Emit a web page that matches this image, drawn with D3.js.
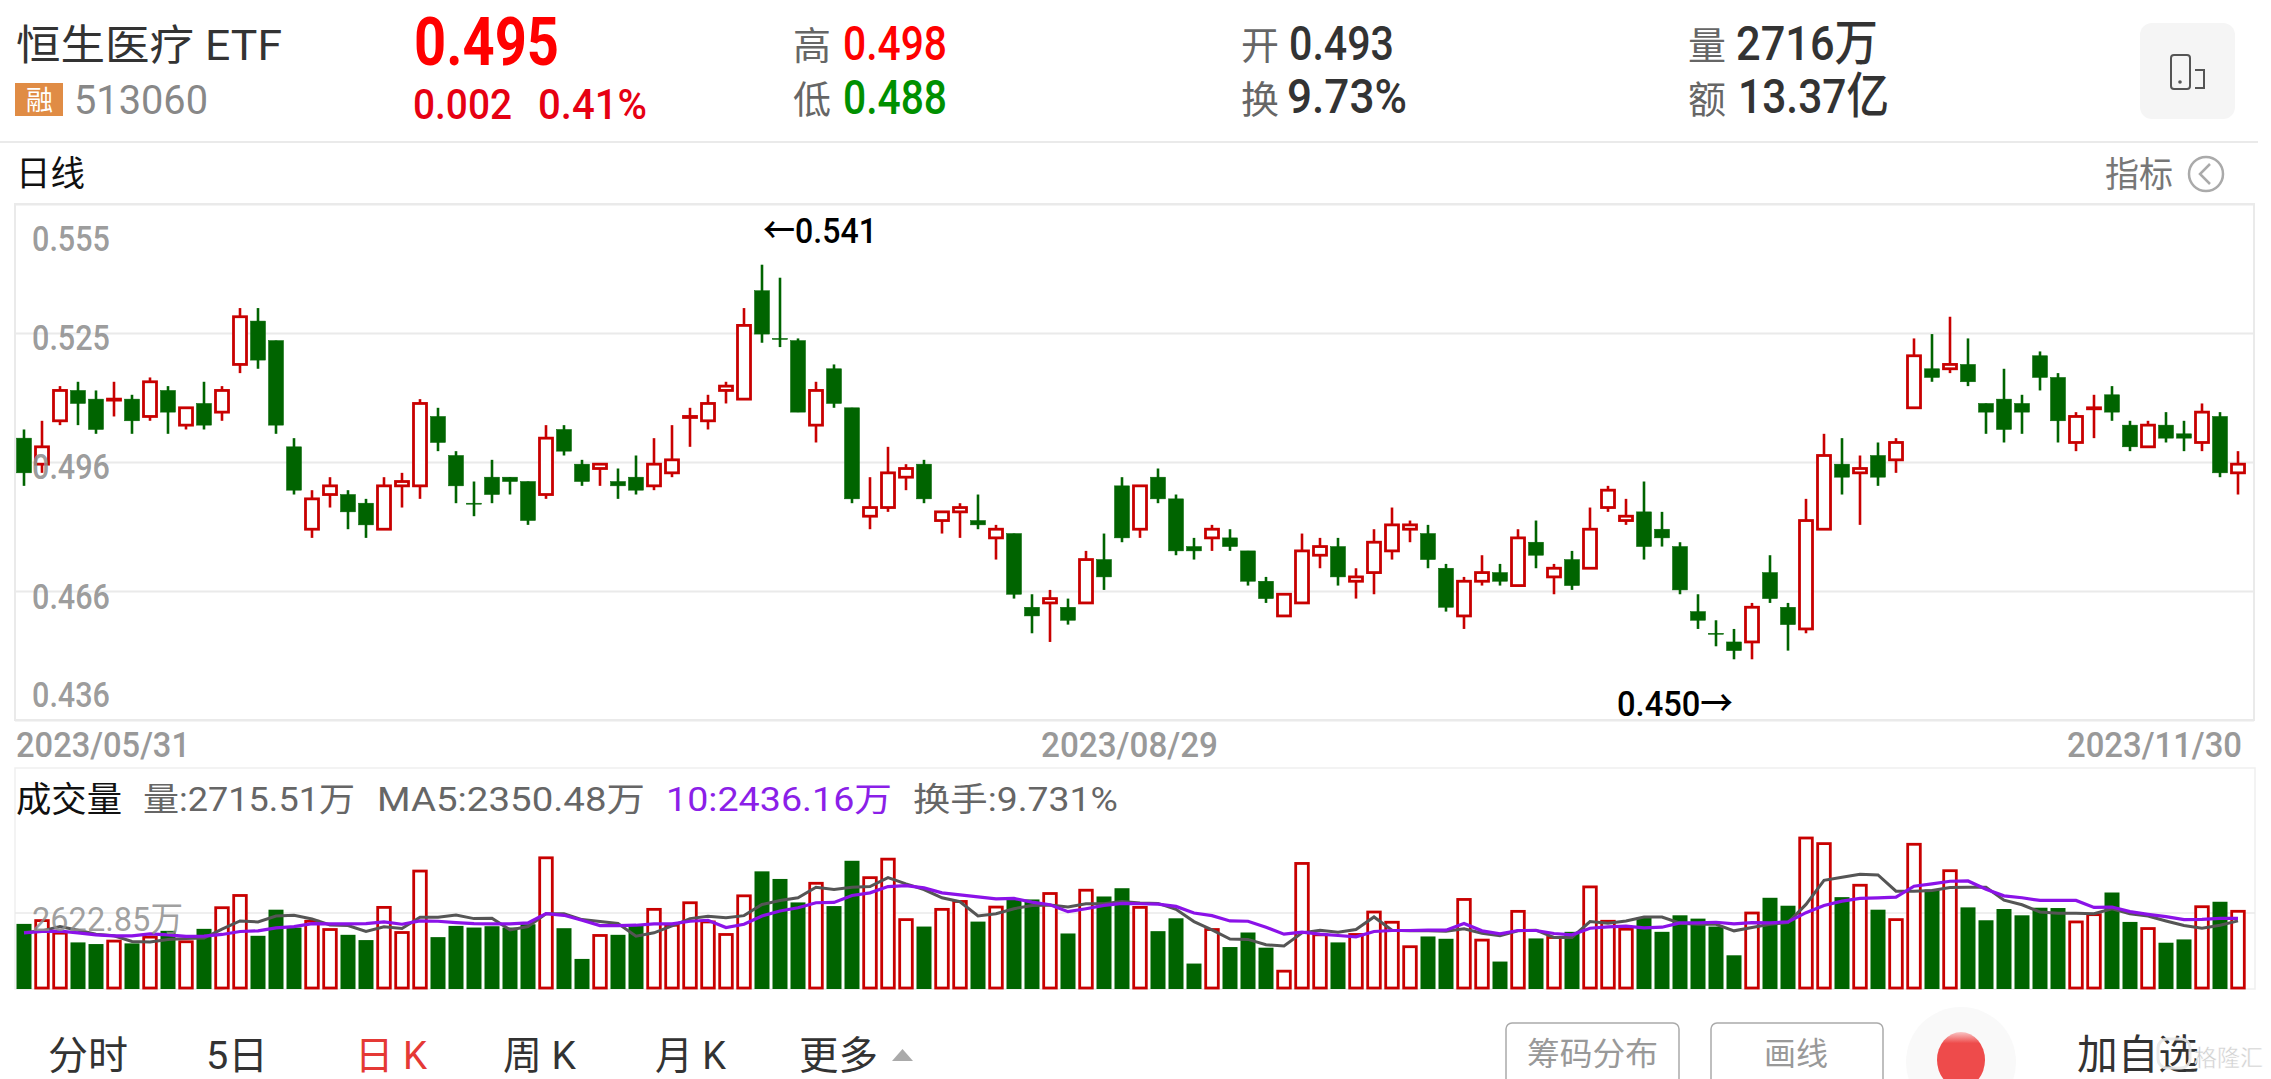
<!DOCTYPE html>
<html>
<head>
<meta charset="utf-8">
<script src="https://cdnjs.cloudflare.com/ajax/libs/d3/7.8.5/d3.min.js"></script>
<style>
  html, body { margin: 0; padding: 0; background: #fff; overflow: hidden; }
  svg { display: block; }
  text { font-family: Roboto, "Noto Sans CJK SC", sans-serif; }
</style>
</head>
<body>
<div id="chart"></div>
<script>
// daily candles, 2023/05/31 - 2023/11/30
const opens = [.501,.495,.505,.512,.510,.510,.510,.506,.512,.504,.509,.507,.518,.528,.5235,.499,.480,.488,.488,.486,.480,.490,.490,.506,.497,.486,.492,.492,.491,.488,.503,
  .495,.494,.491,.492,.490,.493,.506,.505,.512,.510,.535,.524,.5235,.504,.517,.508,.483,.485,.492,.495,.482,.484,.482,.478,.479,.462,.463,.462,.463,.473,.490,
  .480,.492,.487,.476,.478,.478,.475,.468,.460,.463,.474,.476,.468,.470,.475,.480,.479,.471,.460,.468,.470,.467,.477,.469,.473,.471,.485,.482,.484,.480,.476,
  .461,.456,.454,.454,.470,.462,.457,.480,.495,.493,.497,.496,.508,.517,.517,.518,.509,.510,.509,.520,.515,.500,.508,.511,.504,.499,.504,.502,.500,.506,.493];
const closes = [.493,.499,.512,.509,.503,.510,.505,.514,.507,.508,.504,.512,.529,.519,.504,.489,.487,.490,.484,.481,.490,.491,.509,.500,.490,.486,.488,.491,.482,.501,.498,
  .491,.495,.490,.489,.495,.496,.506,.509,.513,.527,.525,.524,.507,.512,.509,.487,.485,.493,.494,.487,.484,.485,.481,.480,.465,.460,.464,.459,.473,.469,.478,
  .490,.487,.475,.475,.480,.476,.468,.464,.465,.475,.476,.469,.469,.477,.481,.481,.473,.462,.468,.470,.468,.478,.474,.471,.467,.480,.489,.483,.476,.478,.466,
  .459,.456,.452,.462,.464,.458,.482,.497,.492,.494,.492,.500,.520,.515,.518,.514,.507,.503,.507,.515,.505,.506,.508,.507,.499,.504,.501,.501,.507,.493,.495];
const highs = [.503,.505,.513,.514,.512,.514,.511,.515,.513,.508,.514,.513,.531,.531,.5235,.501,.489,.492,.489,.487,.492,.493,.510,.508,.498,.491,.496,.492,.491,.504,.504,
  .496,.495,.494,.497,.501,.504,.508,.511,.514,.531,.541,.538,.524,.514,.518,.508,.492,.499,.495,.496,.484,.486,.488,.481,.479,.465,.466,.464,.475,.479,.492,
  .490,.494,.488,.478,.481,.480,.475,.469,.465,.479,.478,.478,.471,.480,.485,.482,.481,.472,.469,.474,.472,.480,.482,.472,.475,.485,.490,.487,.491,.484,.477,
  .465,.459,.457,.463,.474,.463,.487,.502,.501,.497,.500,.501,.524,.525,.529,.524,.509,.517,.511,.521,.516,.507,.511,.513,.505,.505,.507,.505,.509,.507,.498];
const lows = [.490,.493,.504,.504,.502,.506,.502,.505,.502,.503,.503,.505,.516,.517,.502,.488,.478,.485,.480,.478,.480,.485,.487,.498,.486,.483,.486,.488,.481,.487,.497,
  .490,.490,.487,.488,.489,.492,.499,.503,.509,.510,.523,.522,.507,.500,.508,.486,.480,.484,.489,.486,.479,.478,.480,.473,.464,.456,.454,.458,.463,.466,.477,
  .478,.486,.474,.473,.475,.475,.467,.463,.460,.463,.471,.467,.464,.465,.473,.477,.471,.461,.457,.467,.467,.467,.471,.465,.466,.471,.484,.481,.473,.476,.465,
  .457,.453,.450,.450,.463,.452,.456,.480,.488,.481,.490,.493,.508,.514,.516,.513,.502,.500,.502,.512,.500,.498,.501,.505,.498,.499,.500,.498,.498,.492,.488];

// volume, 万
const volumes = [2247,2395,1961,1608,1551,1688,1574,1825,2007,1665,2076,2840,3262,1836,2737,2121,2372,2087,1870,1688,2851,1984,4105,1790,2178,2121,2167,2121,2235,4562,2098,
  1038,1882,1870,2178,2783,2235,3011,2349,1916,3250,4060,3798,2988,3683,2862,4425,3877,4516,2429,2155,2783,3056,2326,2862,3090,3090,3330,1916,3444,3193,3478,
  2851,1996,2440,878,2087,1448,1950,1426,650,4368,1904,1608,1916,2691,2338,1494,1813,1733,3125,1722,947,2714,1745,1813,1973,3558,2372,2098,2463,1973,2543,
  2429,2155,1163,2657,3148,2874,5246,5052,3170,3615,2737,2429,5029,3433,4117,2817,2372,2760,2543,2805,2794,2349,2600,3330,2315,2121,1597,1711,2874,3011,2716];
const ma5 = [1950,2007,2155,2030,1893,1836,1642,1619,1711,1745,1756,2064,2349,2315,2520,2543,2418,2212,2190,1984,2144,2087,2475,2475,2554,2429,2440,2041,2155,2600,2600,
  2395,2326,2258,1825,1939,2178,2429,2509,2463,2532,2919,3056,3148,3512,3433,3512,3535,3843,3626,3433,3148,3011,2520,2600,2771,2885,2897,2828,2942,2942,3022,
  2965,2954,2748,2326,2041,1722,1711,1528,1483,1939,2030,1961,2053,2486,2030,2007,2007,1996,2076,1927,1836,2007,2030,1779,1779,2326,2269,2349,2486,2486,2269,
  2235,2235,2007,2121,2235,2292,2919,3752,3855,3957,3934,3376,3376,3398,3501,3512,3512,3068,2908,2657,2612,2612,2600,2771,2600,2520,2349,2190,2098,2201,2350];
const ma10 = [1939,1984,1996,1939,1870,1836,1836,1904,1870,1813,1825,1882,1984,2007,2110,2155,2258,2247,2247,2258,2315,2235,2349,2338,2292,2258,2247,2247,2281,2600,2543,
  2372,2190,2190,2201,2247,2247,2338,2372,2121,2235,2520,2691,2805,2976,2988,3227,3319,3535,3569,3490,3319,3250,3182,3113,3125,2999,2908,2669,2771,2885,2954,
  2942,2931,2851,2623,2532,2349,2338,2133,1893,1961,1893,1847,1802,1984,2019,2019,2030,2030,2258,2007,1904,2019,2019,1916,1870,2098,2144,2167,2110,2133,2281,
  2281,2304,2247,2292,2281,2315,2634,2885,3033,3125,3148,3170,3547,3626,3718,3729,3444,3216,3148,3056,3056,3056,2817,2828,2669,2577,2497,2395,2406,2440,2436];

const priceTicks = [0.555, 0.52525, 0.4955, 0.46575, 0.436];
const priceTickLabels = ["0.555", "0.525", "0.496", "0.466", "0.436"];
const dateLabels = ["2023/05/31", "2023/08/29", "2023/11/30"];
const volGrid = 2622.85;

const W = 2271, H = 1079;
const GREEN = "#006400", RED = "#c80000", BORDER = "#eaeaea";

const svg = d3.select("#chart").append("svg").attr("width", W).attr("height", H);

const grad = svg.append("defs").append("linearGradient").attr("id", "recBtn")
  .attr("x1", 0).attr("x2", 0).attr("y1", 0).attr("y2", 1);
grad.append("stop").attr("offset", 0).attr("stop-color", "#f9c4c4");
grad.append("stop").attr("offset", 0.2).attr("stop-color", "#ee4b4b");

// text with a fixed width, the app's font is narrower than anything installed
function label(str, x, y, size, fill, width, weight) {
  const t = svg.append("text").attr("x", x).attr("y", y)
    .attr("font-size", size).attr("fill", fill).text(str);
  if (width) t.attr("textLength", width).attr("lengthAdjust", "spacingAndGlyphs");
  if (weight) t.attr("font-weight", weight);
  return t;
}

// ----- header
label("恒生医疗 ETF", 16, 60, 42, "#333", 266);
svg.append("rect").attr("x", 15).attr("y", 83).attr("width", 48).attr("height", 33).attr("fill", "#e08c45");
label("融", 26, 110, 27, "#fff");
label("513060", 74, 114, 40, "#888", 134);
label("0.495", 414, 65, 66, "#f00", 145, 700);
label("0.002", 413, 119, 42, "#e60012", 99, 500);
label("0.41%", 538, 119, 42, "#e60012", 109, 500);
label("高", 793, 59, 38, "#666");
label("0.498", 843, 60, 49, "#f00", 104, 500);
label("低", 793, 113, 38, "#666");
label("0.488", 843, 114, 49, "#009000", 104, 500);
label("开", 1241, 59, 38, "#666");
label("0.493", 1289, 60, 49, "#333", 105, 500);
label("换", 1241, 113, 38, "#666");
label("9.73%", 1287, 113, 49, "#333", 120, 500);
label("量", 1688, 59, 38, "#666");
label("2716万", 1736, 60, 49, "#333", 142, 500);
label("额", 1688, 113, 38, "#666");
label("13.37亿", 1738, 113, 49, "#333", 151, 500);

svg.append("rect").attr("x", 2140).attr("y", 23).attr("width", 95).attr("height", 96).attr("rx", 12).attr("fill", "#f5f5f5");
svg.append("rect").attr("x", 2171).attr("y", 55).attr("width", 19).attr("height", 34).attr("rx", 3)
  .attr("fill", "none").attr("stroke", "#555").attr("stroke-width", 2);
svg.append("circle").attr("cx", 2180).attr("cy", 82).attr("r", 1.8).attr("fill", "#555");
svg.append("path").attr("d", "M2195,70H2204V88H2195").attr("fill", "none").attr("stroke", "#555").attr("stroke-width", 2);

svg.append("line").attr("x1", 0).attr("x2", 2258).attr("y1", 142).attr("y2", 142).attr("stroke", BORDER).attr("stroke-width", 2);
label("日线", 16, 186, 35, "#111", 69);
label("指标", 2105, 187, 35, "#777", 68);
svg.append("circle").attr("cx", 2206).attr("cy", 174).attr("r", 17).attr("fill", "none").attr("stroke", "#aaa").attr("stroke-width", 2.5);
svg.append("path").attr("d", "M2210,164L2200,174L2210,184").attr("fill", "none").attr("stroke", "#aaa").attr("stroke-width", 2.5);

// ----- price panel
const x = d3.scaleLinear().domain([0, opens.length - 1]).range([24, 2238]);
const y = d3.scaleLinear().domain([0.436, 0.555]).range([720, 204]);

svg.append("rect").attr("x", 15).attr("y", 204).attr("width", 2239).attr("height", 516)
  .attr("fill", "none").attr("stroke", BORDER).attr("stroke-width", 2);

const grid = svg.append("g").attr("transform", "translate(15,0)")
  .call(d3.axisRight(y).tickValues(priceTicks).tickSize(2239).tickFormat(""));
grid.select(".domain").remove();
grid.selectAll("line").attr("stroke", BORDER).attr("stroke-width", 2);

const candles = svg.append("g").selectAll("g").data(opens).join("g");
const isUp = i => closes[i] > opens[i] || (closes[i] === opens[i] && i > 0 && closes[i] >= closes[i - 1]);
const cColor = (d, i) => isUp(i) ? RED : GREEN;

candles.append("line")
  .attr("x1", (d, i) => x(i)).attr("x2", (d, i) => x(i))
  .attr("y1", (d, i) => y(highs[i])).attr("y2", (d, i) => y(lows[i]))
  .attr("stroke", cColor).attr("stroke-width", 2.6);

candles.append("rect")
  .attr("x", (d, i) => x(i) - (isUp(i) ? 6.5 : 7.5))
  .attr("width", (d, i) => isUp(i) ? 13 : 15)
  .attr("y", (d, i) => y(Math.max(opens[i], closes[i])))
  .attr("height", (d, i) => Math.abs(y(opens[i]) - y(closes[i])) || 1)
  .attr("fill", (d, i) => isUp(i) ? "#fff" : GREEN)
  .attr("stroke", cColor)
  .attr("stroke-width", (d, i) => isUp(i) ? 2.8 : 0.5);

// price labels sit just under their grid line, the first and last stay inside the box
const labelDy = [47, 17, 17, 18, -13];
svg.append("g").selectAll("text").data(priceTicks).join("text")
  .attr("x", 32).attr("y", (d, i) => y(d) + labelDy[i])
  .attr("font-size", 35).attr("font-weight", 500).attr("fill", "#8f8f8f").attr("fill-opacity", 0.9)
  .attr("textLength", 78).attr("lengthAdjust", "spacingAndGlyphs")
  .text((d, i) => priceTickLabels[i]);

label("←0.541", 763, 243, 35, "#000", 114, 500);
label("0.450→", 1617, 716, 35, "#000", 116, 500);

const dateX = [16, 1041, 2067], dateW = [174, 177, 175];
dateLabels.forEach((d, i) => label(d, dateX[i], 757, 35, "#999", dateW[i], 500));

// ----- volume panel
const yv = d3.scaleLinear().domain([0, 5245.7]).range([989, 837]);

svg.append("rect").attr("x", 15).attr("y", 768).attr("width", 2240).attr("height", 221)
  .attr("fill", "none").attr("stroke", "#efefef").attr("stroke-width", 1.5);
svg.append("line").attr("x1", 15).attr("x2", 2255).attr("y1", yv(volGrid)).attr("y2", yv(volGrid))
  .attr("stroke", BORDER).attr("stroke-width", 1.5);

label("成交量", 16, 812, 35, "#111", 106);
label("量:2715.51万", 143, 811, 33, "#666", 212);
label("MA5:2350.48万", 377, 811, 33, "#666", 268);
label("10:2436.16万", 666, 811, 33, "#8b1fe8", 226);
label("换手:9.731%", 913, 811, 33, "#666", 205);

svg.append("g").selectAll("rect").data(volumes).join("rect")
  .attr("x", (d, i) => x(i) - (isUp(i) ? 6.3 : 7.5))
  .attr("width", (d, i) => isUp(i) ? 12.6 : 15)
  .attr("y", (d, i) => yv(d) + (isUp(i) ? 1 : 0))
  .attr("height", (d, i) => yv(0) - yv(d) - (isUp(i) ? 2 : 0))
  .attr("fill", (d, i) => isUp(i) ? "#fff" : GREEN)
  .attr("stroke", (d, i) => isUp(i) ? RED : "none")
  .attr("stroke-width", 2.8);

const line = d3.line().x((d, i) => x(i)).y(d => yv(d));
svg.append("path").datum(ma5).attr("d", line).attr("fill", "none").attr("stroke", "#555").attr("stroke-width", 3);
svg.append("path").datum(ma10).attr("d", line).attr("fill", "none").attr("stroke", "#8b12e8").attr("stroke-width", 3.2);

label("2622.85万", 32, 931, 34, "#8f8f8f", 151).attr("fill-opacity", 0.85);

// ----- bottom bar
label("分时", 48, 1069, 39, "#333", 80);
label("5日", 206, 1069, 39, "#333", 62);
label("日 K", 355, 1069, 39, "#e53935", 72);
label("周 K", 503, 1069, 39, "#333", 73);
label("月 K", 655, 1069, 39, "#333", 71);
label("更多", 799, 1069, 39, "#333", 79);
svg.append("path").attr("d", "M892,1061L902.5,1049L913,1061Z").attr("fill", "#aaa");

svg.append("rect").attr("x", 1506).attr("y", 1023).attr("width", 173).attr("height", 70).attr("rx", 6)
  .attr("fill", "#fff").attr("stroke", "#aaa").attr("stroke-width", 1.5);
label("筹码分布", 1527, 1065, 32, "#999", 131);
svg.append("rect").attr("x", 1711).attr("y", 1023).attr("width", 172).attr("height", 70).attr("rx", 6)
  .attr("fill", "#fff").attr("stroke", "#aaa").attr("stroke-width", 1.5);
label("画线", 1764, 1065, 32, "#999", 64);

svg.append("circle").attr("cx", 1961).attr("cy", 1062).attr("r", 55).attr("fill", "#f9f9f9");
svg.append("ellipse").attr("cx", 1961).attr("cy", 1060).attr("rx", 24).attr("ry", 28).attr("fill", "url(#recBtn)");
label("加自选", 2077, 1069, 41, "#333", 122);

// watermark
svg.append("rect").attr("x", 2158).attr("y", 1039).attr("width", 32).attr("height", 29).attr("rx", 9)
  .attr("fill", "none").attr("stroke", "#e8e8e8").attr("stroke-opacity", 0.9).attr("stroke-width", 3);
label("格隆汇", 2194, 1066, 23, "#d0d0d0").attr("stroke", "#fff").attr("stroke-width", 0.4);
</script>
</body>
</html>
